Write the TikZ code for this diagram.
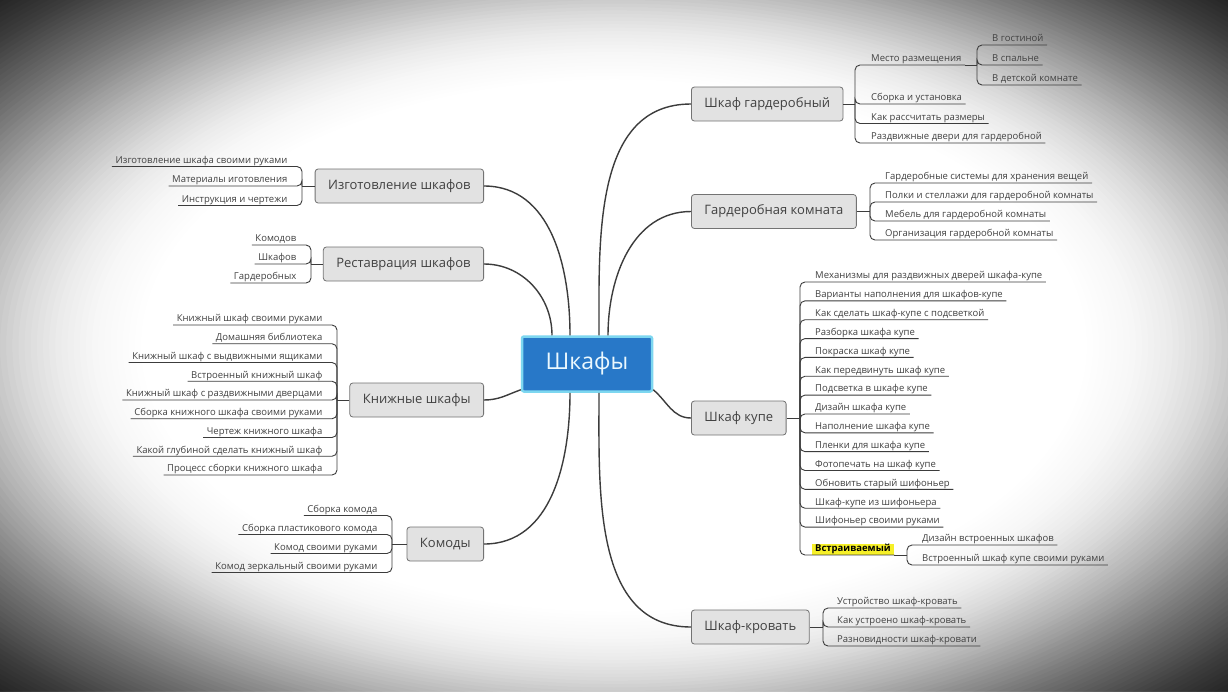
\documentclass[tikz,border=0pt]{standalone}
\usepackage{fontspec}
\setmainfont{Open Sans}
\usetikzlibrary{positioning}

\definecolor{ctrblue}{RGB}{40,120,200}
\definecolor{glow}{RGB}{125,215,240}
\definecolor{boxgray}{RGB}{226,226,226}
\definecolor{linegray}{RGB}{60,60,60}
\definecolor{txtgray}{RGB}{65,65,65}
\definecolor{hilite}{RGB}{246,240,40}

\tikzset{
  topic/.style={draw=black!55, fill=boxgray, rounded corners=3pt, line width=0.8pt,
    minimum height=34pt, inner xsep=13pt, text=txtgray, font=\fontsize{13}{15}\selectfont},
  leaf/.style={inner xsep=3.5pt, inner ysep=1pt, text height=7pt, text depth=2pt,
    text=txtgray, font=\fontsize{9.5}{11}\selectfont},
  leafl/.style={leaf, anchor=south east},
  leafr/.style={leaf, anchor=south west},
  trunk/.style={draw=linegray, line width=0.9pt, rounded corners=5pt},
  main/.style={draw=linegray, line width=1.4pt},
}

\begin{document}
\begin{tikzpicture}[x=1pt,y=-1pt]
\useasboundingbox (0,0) rectangle (1228,691);
% vignette
\fill[white] (0,0) rectangle (1228,691);
\foreach \s in {1,...,72}{
  \pgfmathsetmacro\op{0.0893*pow(0.01*\s-0.005,1.42)}
  \pgfmathsetmacro\rh{0.7+0.01*\s-0.01}
  \fill[black, opacity=\op, even odd rule] (-10,-10) rectangle (1238,701)
    (614,345.5) ellipse ({614*\rh} and {345.5*\rh});
}

\node[draw=glow, line width=2.5pt, fill=ctrblue, rounded corners=2pt, minimum width=130pt,
  minimum height=55pt, text=white!92!cyan, font=\fontsize{23}{26}\selectfont] (c) at (587,364) {Шкафы};

\node[topic, anchor=east] (izg) at (484,186) {Изготовление шкафов};
\node[topic, anchor=east] (rest) at (484,264) {Реставрация шкафов};
\node[topic, anchor=east] (knig) at (484,400) {Книжные шкафы};
\node[topic, anchor=east] (komod) at (484,544) {Комоды};
\node[topic, anchor=west] (garb) at (691,104) {Шкаф гардеробный};
\node[topic, anchor=west] (groom) at (691,211.5) {Гардеробная комната};
\node[topic, anchor=west] (kupe) at (691,418) {Шкаф купе};
\node[topic, anchor=west] (krov) at (691,627) {Шкаф-кровать};

\path[main]
([xshift=-17pt]c.north) edge[out=90,in=0] (izg.east)
([xshift=-35pt]c.north) edge[out=90,in=0] (rest.east)
([yshift=3pt]c.south west) edge[out=200,in=0] (knig.east)
([xshift=-17pt]c.south) edge[out=-90,in=0] (komod.east)
([xshift=12pt]c.north) edge[out=90,in=180] (garb.west)
([xshift=21pt]c.north) edge[out=90,in=180] (groom.west)
([yshift=3pt]c.south east) edge[out=-40,in=180] (kupe.west)
([xshift=12pt]c.south) edge[out=-90,in=180] (krov.west)
;

% left side
\coordinate (izgj) at (302,186);
\draw[trunk] (izg.west) -- (izgj);
\foreach \t [count=\i] in {Изготовление шкафа своими руками, Материалы иготовления, Инструкция и чертежи}{
  \node[leafl] (izg\i) at (291,{166.5+19.5*(\i-1)}) {\t};
  \draw[trunk] (izgj) |- (izg\i.south west);
}
\coordinate (restj) at (311,264);
\draw[trunk] (rest.west) -- (restj);
\foreach \t [count=\i] in {Комодов, Шкафов, Гардеробных}{
  \node[leafl] (rest\i) at (300,{245+19*(\i-1)}) {\t};
  \draw[trunk] (restj) |- (rest\i.south west);
}
\coordinate (knigj) at (337,400);
\draw[trunk] (knig.west) -- (knigj);
\foreach \t [count=\i] in {Книжный шкаф своими руками, Домашняя библиотека, Книжный шкаф с выдвижными ящиками,
  Встроенный книжный шкаф, Книжный шкаф с раздвижными дверцами, Сборка книжного шкафа своими руками,
  Чертеж книжного шкафа, Какой глубиной сделать книжный шкаф, Процесс сборки книжного шкафа}{
  \node[leafl] (knig\i) at (326,{325+18.75*(\i-1)}) {\t};
  \draw[trunk] (knigj) |- (knig\i.south west);
}
\coordinate (komodj) at (392,544);
\draw[trunk] (komod.west) -- (komodj);
\foreach \t [count=\i] in {Сборка комода, Сборка пластикового комода, Комод своими руками, Комод зеркальный своими руками}{
  \node[leafl] (komod\i) at (381,{515.5+19*(\i-1)}) {\t};
  \draw[trunk] (komodj) |- (komod\i.south west);
}

% right side
\coordinate (garbj) at (855,104);
\draw[trunk] (garb.east) -- (garbj);
\foreach \y/\t [count=\i] in {65/Место размещения, 104/Сборка и установка, 123.5/Как рассчитать размеры, 143/Раздвижные двери для гардеробной}{
  \node[leafr] (garb\i) at (867.5,\y) {\t};
  \draw[trunk] (garbj) |- (garb\i.south east);
}
\coordinate (mestj) at (977,65);
\draw[trunk] (garb1.south east) -- (mestj);
\foreach \t [count=\i] in {В гостиной, В спальне, В детской комнате}{
  \node[leafr] (mest\i) at (988.5,{45+20*(\i-1)}) {\t};
  \draw[trunk] (mestj) |- (mest\i.south east);
}
\coordinate (groomj) at (870,211.5);
\draw[trunk] (groom.east) -- (groomj);
\foreach \t [count=\i] in {Гардеробные системы для хранения вещей, Полки и стеллажи для гардеробной комнаты,
  Мебель для гардеробной комнаты, Организация гардеробной комнаты}{
  \node[leafr] (groom\i) at (881.5,{183+19*(\i-1)}) {\t};
  \draw[trunk] (groomj) |- (groom\i.south east);
}
\coordinate (kupej) at (800,418);
\draw[trunk] (kupe.east) -- (kupej);
\foreach \t [count=\i] in {Механизмы для раздвижных дверей шкафа-купе, Варианты наполнения для шкафов-купе,
  Как сделать шкаф-купе с подсветкой, Разборка шкафа купе, Покраска шкаф купе, Как передвинуть шкаф купе,
  Подсветка в шкафе купе, Дизайн шкафа купе, Наполнение шкафа купе, Пленки для шкафа купе,
  Фотопечать на шкаф купе, Обновить старый шифоньер, Шкаф-купе из шифоньера, Шифоньер своими руками}{
  \node[leafr] (kupe\i) at (811.5,{282+18.85*(\i-1)}) {\t};
  \draw[trunk] (kupej) |- (kupe\i.south east);
}
\node[leafr, fill=hilite, text=black, font=\fontsize{9.5}{11}\selectfont\bfseries] (vstr) at (811.5,555) {Встраиваемый};
\draw[trunk] (kupej) |- (vstr.south east);
\coordinate (vstrj) at (907,555);
\draw[trunk] (vstr.south east) -- (vstrj);
\foreach \t [count=\i] in {Дизайн встроенных шкафов, Встроенный шкаф купе своими руками}{
  \node[leafr] (vstr\i) at (918.5,{545+20*(\i-1)}) {\t};
  \draw[trunk] (vstrj) |- (vstr\i.south east);
}
\coordinate (krovj) at (823,627);
\draw[trunk] (krov.east) -- (krovj);
\foreach \t [count=\i] in {Устройство шкаф-кровать, Как устроено шкаф-кровать, Разновидности шкаф-кровати}{
  \node[leafr] (krov\i) at (833.5,{608+19*(\i-1)}) {\t};
  \draw[trunk] (krovj) |- (krov\i.south east);
}
\end{tikzpicture}
\end{document}
